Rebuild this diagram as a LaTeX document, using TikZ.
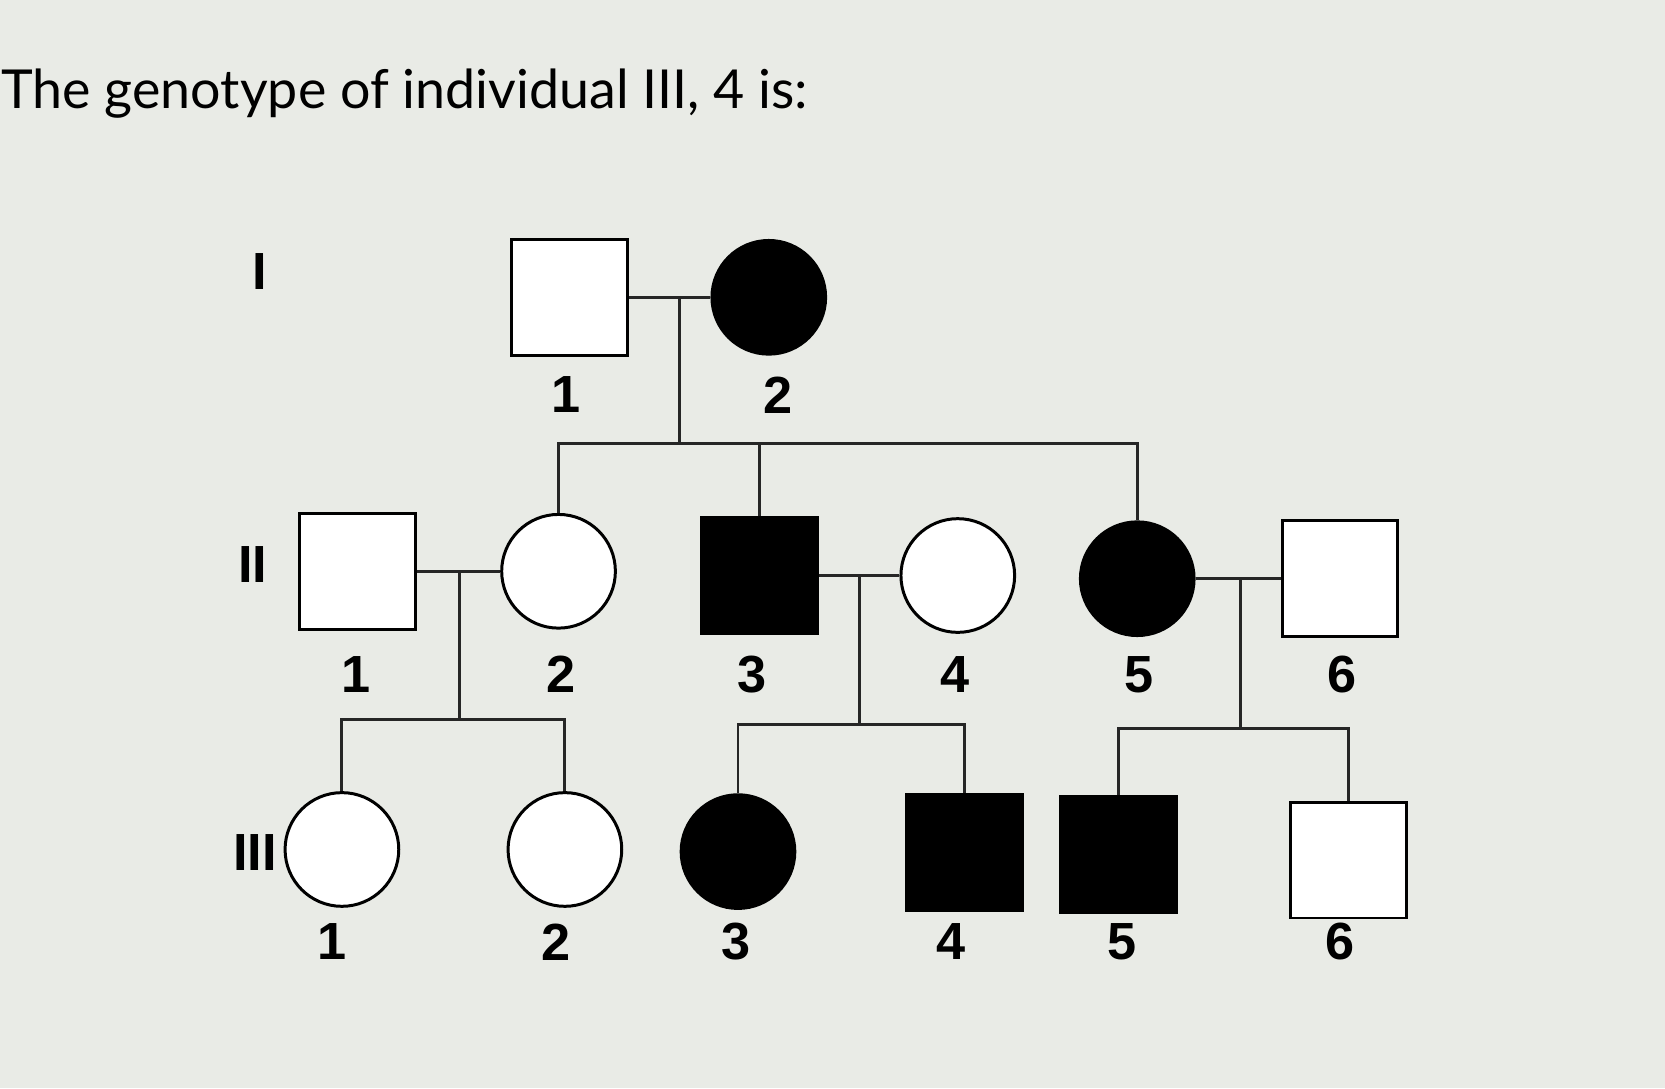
\documentclass[tikz,border=0pt]{standalone}
\usepackage{fontspec}
\setmainfont{Liberation Sans}
\newfontfamily\titlefont{Lato}
\begin{document}
\begin{tikzpicture}[x=0.01cm,y=-0.01cm,line width=0.8pt,
  sq/.style={draw,rectangle,minimum size=1.09cm,inner sep=0pt,fill=white},
  ci/.style={draw,circle,minimum size=1.07cm,inner sep=0pt,fill=white},
  aff/.style={fill=black},
  lab/.style={font=\bfseries\fontsize{14}{14}\selectfont},
  ln/.style={draw=black!85}]
\fill[white!92!lime!60!gray!40] (0,0) rectangle (1568,1025);
\useasboundingbox (0,0) rectangle (1568,1025);
\node[anchor=base west,inner sep=0pt,font=\titlefont\fontsize{14.4}{14.4}\selectfont] (title) at (0,102) {The genotype of individual III, 4 is:};
% generation labels
\node[lab] (gI) at (245,256) {I};
\node[lab] (gII) at (238,532) {II};
\node[lab] (gIII) at (240,803) {III};
% Gen I
\node[sq] (I1) at (536,280) {};
\node[ci,aff] (I2) at (724,280) {};
\node[lab] (lI1) at (533,372) {1};
\node[lab] (lI2) at (733,372) {2};
% Gen II
\node[sq] (II1) at (337,538) {};
\node[ci] (II2) at (526,538) {};
\node[sq,aff] (II3) at (715,542) {};
\node[ci] (II4) at (902,542) {};
\node[ci,aff] (II5) at (1071,545) {};
\node[sq] (II6) at (1262,545) {};
\foreach \n/\x in {1/335,2/528,3/708,4/899,5/1073,6/1264}
  \node[lab] (lII\n) at (\x,635) {\n};
% Gen III
\node[ci] (III1) at (322,800) {};
\node[ci] (III2) at (532,800) {};
\node[ci,aff] (III3) at (695,802) {};
\node[sq,aff] (III4) at (908,803) {};
\node[sq,aff] (III5) at (1053,805) {};
\node[sq] (III6) at (1270,810) {};
\foreach \n/\x in {1/313,2/524,3/693,4/896,5/1057,6/1262}
  \node[lab] (lIII\n) at (\x,887) {\n};
% coordinates
\coordinate (m1) at (640,280);
\coordinate (s1) at (640,418);
\coordinate (m2) at (433,538);
\coordinate (s2) at (433,678);
\coordinate (m3) at (809,542);
\coordinate (s3) at (809,682);
\coordinate (m4) at (1168,545);
\coordinate (s4) at (1168,686);
% connectors
\draw[ln] (I1) -- (I2);
\draw[ln] (m1) -- (s1);
\draw[ln] (II2.north) |- (s1) -| (II5.north);
\draw[ln] (s1) -| (II3.north);
\draw[ln] (II1) -- (II2);
\draw[ln] (m2) -- (s2);
\draw[ln] (III1.north) |- (s2) -| (III2.north);
\draw[ln] (II3) -- (II4);
\draw[ln] (m3) -- (s3);
\draw[ln] (III3.north) |- (s3) -| (III4.north);
\draw[ln] (II5) -- (II6);
\draw[ln] (m4) -- (s4);
\draw[ln] (III5.north) |- (s4) -| (III6.north);
\end{tikzpicture}
\end{document}
